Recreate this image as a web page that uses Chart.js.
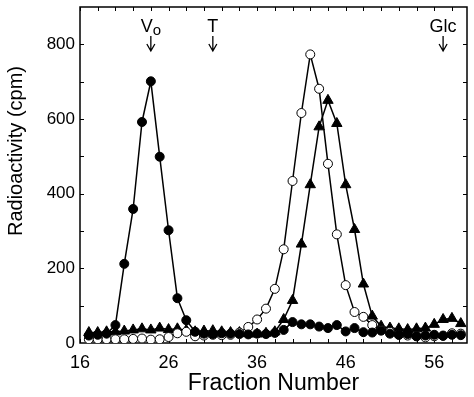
<!DOCTYPE html>
<html>
<head>
<meta charset="utf-8">
<script src="https://cdn.jsdelivr.net/npm/chart.js@4.4.0/dist/chart.umd.min.js"></script>
<style>
  html, body { margin: 0; padding: 0; background: #fff; }
</style>
</head>
<body>
<canvas id="chart" width="474" height="397"></canvas>
<script>
// fraction numbers and counts
const fractions = [17, 18, 19, 20, 21, 22, 23, 24, 25, 26, 27, 28, 29, 30, 31, 32, 33, 34, 35, 36, 37, 38,
                   39, 40, 41, 42, 43, 44, 45, 46, 47, 48, 49, 50, 51, 52, 53, 54, 55, 56, 57, 58, 59];
const filledCircles = [20, 22, 25, 48, 212, 359, 592, 701, 499, 302, 120, 61, 30, 25, 24, 26, 25, 24, 23, 25, 24, 27,
                       35, 56, 50, 50, 44, 40, 48, 31, 40, 29, 28, 33, 25, 22, 24, 18, 20, 22, 19, 22, 21];
const openCircles = [10, 10, 10, 10, 10, 11, 12, 9, 10, 16, 26, 30, 18, 20, 22, 21, 22, 28, 43, 63, 92, 145,
                     251, 434, 616, 773, 681, 480, 291, 155, 83, 70, 48, 35, 30, 22, 20, 18, 15, 18, 20, 26, 25];
const triangles = [28, 28, 30, 30, 32, 35, 38, 35, 40, 36, 38, 34, 30, 32, 33, 30, 28, 28, 25, 24, 26, 30,
                   63, 114, 265, 424, 579, 650, 588, 424, 304, 158, 72, 45, 40, 38, 36, 38, 40, 50, 63, 66, 52];

const xTicks = [16, 26, 36, 46, 56];
const yTicks = [0, 200, 400, 600, 800];

// elution markers: void volume, T, glucose
const markerLabels = ['V', 'T', 'Glc'];
const markerSubs = ['o', '', ''];
const markerFractions = [24, 31, 57];

const toPoints = vals => vals.map((v, i) => ({ x: fractions[i], y: v }));

const font = 'Liberation Sans, Arial, Helvetica, sans-serif';

const framePlugin = {
  id: 'frame',
  beforeDatasetsDraw(chart) {
    const { ctx, chartArea: a, scales: { x, y } } = chart;
    ctx.save();
    ctx.strokeStyle = '#000';
    ctx.lineWidth = 1.5;
    ctx.strokeRect(a.left, a.top, a.right - a.left, a.bottom - a.top);
    ctx.lineWidth = 1;
    ctx.beginPath();
    for (let v = 16; v <= x.max; v += 2) {
      const px = Math.round(x.getPixelForValue(v)) + 0.5;
      ctx.moveTo(px, a.bottom); ctx.lineTo(px, a.bottom - 4);
      ctx.moveTo(px, a.top); ctx.lineTo(px, a.top + 4);
    }
    for (let v = 100; v < y.max; v += 100) {
      const py = Math.round(y.getPixelForValue(v)) + 0.5;
      ctx.moveTo(a.left, py); ctx.lineTo(a.left + 4, py);
      ctx.moveTo(a.right, py); ctx.lineTo(a.right - 4, py);
    }
    ctx.stroke();
    ctx.restore();
  },
  afterDraw(chart) {
    const { ctx, scales: { x } } = chart;
    ctx.save();
    ctx.fillStyle = '#000';
    ctx.strokeStyle = '#000';
    ctx.lineWidth = 1.3;
    markerFractions.forEach((f, i) => {
      const px = x.getPixelForValue(f);
      ctx.font = '18px ' + font;
      ctx.textBaseline = 'middle';
      const w = ctx.measureText(markerLabels[i]).width;
      ctx.font = '15px ' + font;
      const ws = markerSubs[i] ? ctx.measureText(markerSubs[i]).width : 0;
      const left = px - (w + ws) / 2;
      ctx.font = '18px ' + font;
      ctx.textAlign = 'left';
      ctx.fillText(markerLabels[i], left, 27);
      if (markerSubs[i]) {
        ctx.font = '15px ' + font;
        ctx.fillText(markerSubs[i], left + w, 31);
      }
      ctx.beginPath();
      ctx.moveTo(px, 36); ctx.lineTo(px, 51);
      ctx.moveTo(px - 4, 44); ctx.lineTo(px, 51); ctx.lineTo(px + 4, 44);
      ctx.stroke();
    });
    // y axis title
    ctx.save();
    ctx.translate(16, 151);
    ctx.rotate(-Math.PI / 2);
    ctx.font = '20px ' + font;
    ctx.textAlign = 'center';
    ctx.textBaseline = 'middle';
    ctx.fillText('Radioactivity (cpm)', 0, 0);
    ctx.restore();
    ctx.restore();
  }
};

const common = {
  borderColor: '#000',
  borderWidth: 1.5,
  pointBorderColor: '#000',
  pointBorderWidth: 1,
  tension: 0,
  fill: false
};

new Chart(document.getElementById('chart'), {
  type: 'line',
  data: {
    datasets: [
      { ...common, label: 'filled circles', data: toPoints(filledCircles),
        pointStyle: 'circle', pointRadius: 4.5, pointBackgroundColor: '#000' },
      { ...common, label: 'open circles', data: toPoints(openCircles),
        pointStyle: 'circle', pointRadius: 4.5, pointBackgroundColor: '#fff' },
      { ...common, label: 'triangles', data: toPoints(triangles),
        pointStyle: 'triangle', pointRadius: 6, pointBackgroundColor: '#000' }
    ]
  },
  options: {
    responsive: false,
    animation: false,
    layout: { padding: { top: 4, right: 6, left: 0, bottom: 0 } },
    plugins: { legend: { display: false }, tooltip: { enabled: false } },
    scales: {
      x: {
        type: 'linear',
        min: 16,
        max: 59.7,
        afterBuildTicks: s => { s.ticks = xTicks.map(v => ({ value: v })); },
        afterFit: s => { s.height = 54; s.paddingLeft = 0; s.paddingRight = 0; },
        grid: { display: false, drawTicks: false },
        border: { display: false },
        ticks: { color: '#000', padding: 9, maxRotation: 0, font: { family: font, size: 18 } },
        title: { display: true, text: 'Fraction Number', color: '#000',
                 font: { family: font, size: 23, lineHeight: 1 }, padding: { top: 0, bottom: 2 } }
      },
      y: {
        min: 0,
        max: 900,
        afterBuildTicks: s => { s.ticks = yTicks.map(v => ({ value: v })); },
        afterFit: s => { s.width = 80; s.paddingTop = 0; s.paddingBottom = 0; },
        grid: { display: false, drawTicks: false },
        border: { display: false },
        ticks: { color: '#000', padding: 5, font: { family: font, size: 17 } }
      }
    }
  },
  plugins: [framePlugin]
});
</script>
</body>
</html>
